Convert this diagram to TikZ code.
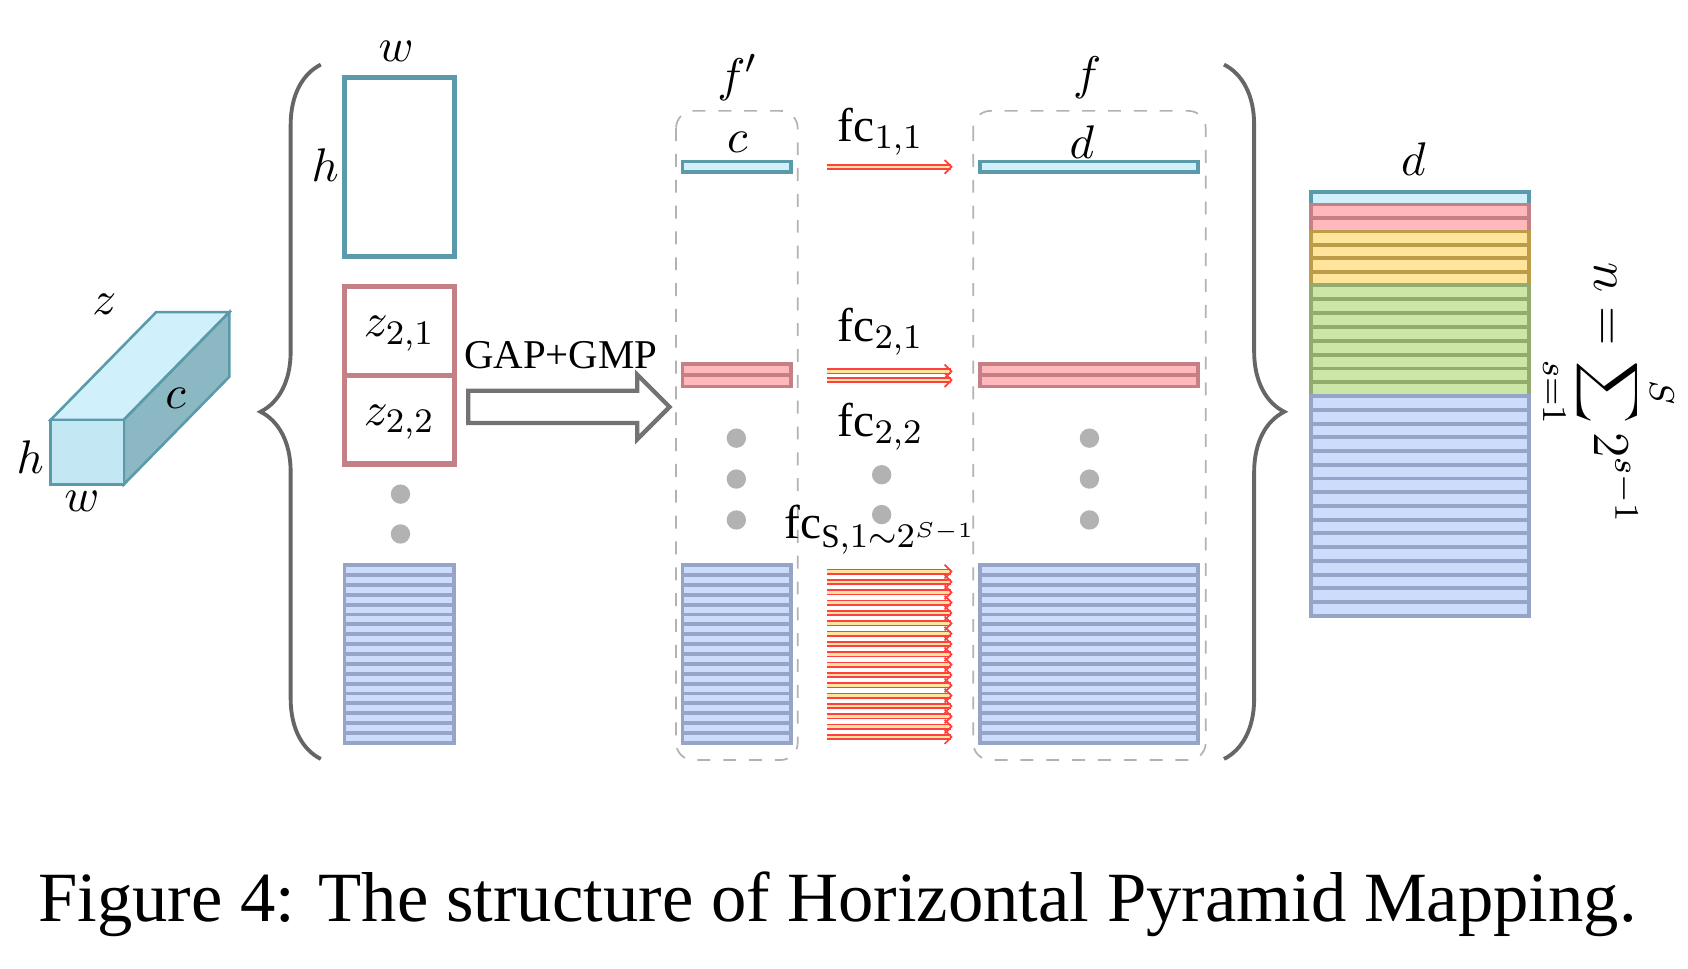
\documentclass[tikz,border=0pt]{standalone}
\usepackage{fontspec}
\setmainfont{Liberation Serif}
\usetikzlibrary{arrows.meta,decorations.pathreplacing}
\definecolor{tealE}{RGB}{90,154,170}
\definecolor{tealF}{RGB}{208,240,252}
\definecolor{redE}{RGB}{196,128,132}
\definecolor{redF}{RGB}{255,184,188}
\definecolor{yelE}{RGB}{188,156,72}
\definecolor{yelF}{RGB}{255,228,156}
\definecolor{grnE}{RGB}{146,172,112}
\definecolor{grnF}{RGB}{204,230,168}
\definecolor{bluE}{RGB}{150,164,200}
\definecolor{bluF}{RGB}{206,220,252}
\tikzset{
  lbl/.style={inner sep=0.75pt,font=\fontsize{11}{13}\selectfont},
  fcarrow/.style={draw=red!75,double=yelF,double distance=0.6pt,line width=0.4pt,-{Straight Barb[length=1.6pt,width=3.2pt]}},
  dot/.style={circle,fill=gray!60,inner sep=0pt,minimum size=4.5pt},
  brace/.style={draw=gray!80!black,line width=0.9pt,decorate,decoration={brace,amplitude=14pt}},
  box/.style={draw=gray!60,dashed,rounded corners=4pt,line width=0.4pt},
}
% stack of n stripes: x1,y1,x2,y2,n,fill,draw
\newcommand{\stripes}[7]{%
  \pgfmathsetmacro{\sh}{(#4-#2)/#5}
  \foreach \k in {1,...,#5}{
    \draw[fill=#6,draw=#7,line width=0.9pt] (#1,{#2+(\k-1)*\sh}) rectangle (#3,{#2+\k*\sh});
  }}
\begin{document}
\begin{tikzpicture}[x=0.25pt,y=-0.25pt]
\useasboundingbox (0,0) rectangle (1568,900);

% cuboid
\draw[tealE,fill=tealF,line width=0.6pt] (47,390) -- (145,290) -- (213,290) -- (115,390) -- cycle;
\draw[tealE,fill=tealE!70,line width=0.6pt] (115,390) -- (213,290) -- (213,350) -- (115,450) -- cycle;
\draw[tealE,fill=tealF!90!tealE,line width=0.6pt] (47,390) rectangle (115,450);
\node[lbl] (cz) at (97,283) {$z$};
\node[lbl] (cc) at (163,370) {$c$};
\node[lbl] (ch) at (28,425) {$h$};
\node[lbl] (cw) at (76,466) {$w$};

% braces
\draw[brace] (298,705) -- (298,60);
\draw[brace] (1137,60) -- (1137,705);

% input stripes
\draw[tealE,line width=1.2pt] (320,72) rectangle (422,238);
\node[lbl] (iw) at (368,48) {$w$};
\node[lbl] (ih) at (302,153) {$h$};
\draw[redE,line width=1.2pt] (320,266) rectangle (422,349);
\draw[redE,line width=1.2pt] (320,349) rectangle (422,431);
\node[lbl] (z21) at (371,310) {$z_{2,1}$};
\node[lbl] (z22) at (371,392) {$z_{2,2}$};
\node[dot] (d1) at (372,459) {};
\node[dot] (d2) at (372,496) {};
\stripes{320}{525}{422}{690}{18}{bluF}{bluE}

% GAP+GMP arrow
\draw[gray!90!black,line width=1pt,fill=white] (435,363) -- (592,363) -- (592,348) -- (622,378) -- (592,408) -- (592,393) -- (435,393) -- cycle;
\node[lbl,font=\fontsize{9.5}{11}\selectfont] (gap) at (521,330) {GAP+GMP};

% f' column
\draw[box] (628,103) rectangle (741,706);
\node[lbl] (fp) at (685,72) {$f'$};
\node[lbl] (fpc) at (685,132) {$c$};
\stripes{634}{150}{735}{160}{1}{tealF}{tealE}
\stripes{634}{338}{735}{359}{2}{redF}{redE}
\foreach \y in {407,445,483} \node[dot] at (684,\y) {};
\stripes{634}{525}{735}{690}{18}{bluF}{bluE}

% f column
\draw[box] (904,103) rectangle (1120,706);
\node[lbl] (ff) at (1010,72) {$f$};
\node[lbl] (fd) at (1005,132) {$d$};
\stripes{910}{150}{1113}{160}{1}{tealF}{tealE}
\stripes{910}{338}{1113}{359}{2}{redF}{redE}
\foreach \y in {407,445,483} \node[dot] at (1012,\y) {};
\stripes{910}{525}{1113}{690}{18}{bluF}{bluE}

% fc arrows
\draw[fcarrow] (768,155) -- (885,155);
\draw[fcarrow] (768,345) -- (885,345);
\draw[fcarrow] (768,353) -- (885,353);
\foreach \i in {0,...,16}
  \draw[fcarrow] (768,{531+\i*9.6}) -- (885,{531+\i*9.6});
\node[lbl] (fc11) at (818,122) {fc$_{1,1}$};
\node[lbl] (fc21) at (818,308) {fc$_{2,1}$};
\node[lbl] (fc22) at (818,396) {fc$_{2,2}$};
\node[dot] (d3) at (819,441) {};
\node[dot] (d4) at (819,478) {};
\node[lbl] (fcs) at (818,492) {fc$_{\mathrm{S},1\sim2^{S-1}}$};

% output stack
\node[lbl] (od) at (1313,148) {$d$};
\stripes{1218}{178}{1420}{190}{1}{tealF}{tealE}
\stripes{1218}{190}{1420}{215}{2}{redF}{redE}
\stripes{1218}{215}{1420}{265}{4}{yelF}{yelE}
\stripes{1218}{265}{1420}{368}{8}{grnF}{grnE}
\stripes{1218}{368}{1420}{572}{16}{bluF}{bluE}
\node[lbl,rotate=-90,font=\fontsize{12}{14}\selectfont] (sum) at (1494,365) {$\displaystyle n=\sum_{s=1}^{S}2^{s-1}$};

% caption
\node[inner sep=0pt,font=\fontsize{16.4}{19}\selectfont] (cap) at (778,840) {Figure 4: The structure of Horizontal Pyramid Mapping.};
\end{tikzpicture}
\end{document}
